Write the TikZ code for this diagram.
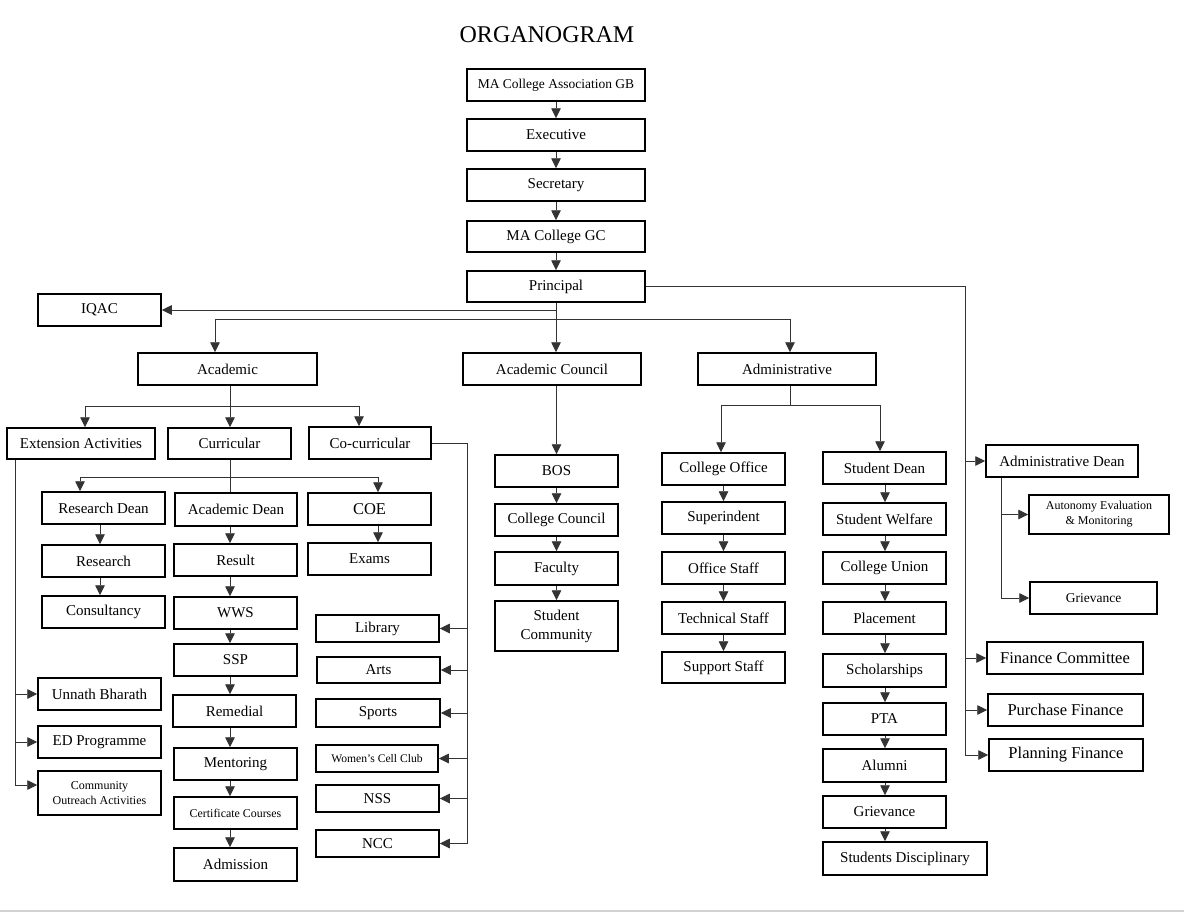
\documentclass[tikz,border=0pt]{standalone}
\usepackage{fontspec}
\setmainfont{Liberation Serif}
\usetikzlibrary{arrows.meta}
\newcommand\fs[2]{\fontsize{#1}{#2}\selectfont}
\tikzset{
  box/.style={draw=black, line width=1.5pt, inner sep=0pt, align=center, font=\fs{15}{19}},
  conn/.style={draw=black!80, line width=0.9pt},
  arr/.style={conn, -{Triangle[length=10pt,width=9.5pt]}},
}
\newcommand\bx[7][]{\node[box,minimum width={#5-#3},minimum height={#6-#4},#1] (#2) at ({(#3+#5)/2},{(#4+#6)/2}) {#7};}
\begin{document}
\begin{tikzpicture}[x=1pt,y=-1pt]
\fill[white] (0,0) rectangle (1184,913);
\useasboundingbox (0,0) rectangle (1184,913);
\draw[gray!35, line width=1.5pt] (0,911) -- (1184,911);
\node[font=\fs{24}{28}] (title) at (547,35) {ORGANOGRAM};
% top chain
\bx[font=\fs{13.5}{16}]{gb}{467}{69}{645}{101}{MA College Association GB}
\bx{exe}{467}{119}{645}{151}{Executive}
\bx{sec}{467}{169}{645}{201}{Secretary}
\bx{gc}{467}{221}{645}{252}{MA College GC}
\bx{pr}{467}{271}{645}{302}{Principal}
\bx{iqac}{38}{294}{161}{326}{IQAC}
\bx{acad}{138}{353}{317}{385}{Academic}
\bx{ac}{463}{353}{641}{385}{Academic Council}
\bx{adm}{698}{353}{876}{385}{Administrative}
% academic
\bx{ext}{7}{428}{155}{459}{Extension Activities}
\bx{cur}{168}{428}{291}{459}{Curricular}
\bx{cocur}{309}{427}{431}{459}{Co-curricular}
\bx{rdean}{42}{492}{165}{524}{Research Dean}
\bx{acdean}{175}{493}{297}{526}{Academic Dean}
\bx[font=\fs{16.5}{19}]{coe}{308}{493}{431}{525}{COE}
\bx{res}{42}{545}{165}{577}{Research}
\bx{result}{174}{544}{297}{576}{Result}
\bx{exams}{308}{543}{431}{575}{Exams}
\bx{cons}{42}{596}{165}{628}{Consultancy}
\bx{wws}{174}{597}{297}{629}{WWS}
\bx{ssp}{174}{644}{297}{676}{SSP}
\bx{rem}{173}{695}{296}{727}{Remedial}
\bx{ment}{174}{748}{297}{780}{Mentoring}
\bx[font=\fs{11.9}{14}]{cert}{174}{797}{297}{829}{Certificate Courses}
\bx{adms}{174}{848}{297}{881}{Admission}
\bx{lib}{316}{615}{439}{642}{Library}
\bx{arts}{317}{657}{440}{683}{Arts}
\bx{sports}{316}{699}{440}{727}{Sports}
\bx[font=\fs{11.6}{14}]{wcc}{316}{745}{438}{772}{Women’s Cell Club}
\bx{nss}{316}{785}{439}{812}{NSS}
\bx{ncc}{316}{830}{439}{857}{NCC}
\bx{ub}{38}{678}{161}{710}{Unnath Bharath}
\bx{ed}{38}{726}{161}{758}{ED Programme}
\bx[font=\fs{12}{15}]{com}{38}{771}{161}{815}{Community\\Outreach Activities}
% academic council
\bx{bos}{495}{455}{618}{487}{BOS}
\bx{cc}{495}{504}{618}{536}{College Council}
\bx{fac}{495}{552}{618}{585}{Faculty}
\bx{sc}{495}{601}{618}{651}{Student\\Community}
% administrative
\bx{co}{662}{453}{785}{485}{College Office}
\bx{sup}{662}{502}{785}{534}{Superindent}
\bx{os}{662}{552}{785}{584}{Office Staff}
\bx{ts}{662}{602}{785}{634}{Technical Staff}
\bx{ss}{662}{652}{785}{683}{Support Staff}
\bx{sd}{823}{452}{946}{484}{Student Dean}
\bx{sw}{823}{503}{946}{535}{Student Welfare}
\bx{cu}{823}{552}{946}{584}{College Union}
\bx{pl}{823}{602}{946}{634}{Placement}
\bx{sch}{823}{654}{946}{687}{Scholarships}
\bx{pta}{823}{703}{946}{735}{PTA}
\bx{alu}{823}{749}{946}{782}{Alumni}
\bx{grv}{823}{796}{946}{828}{Grievance}
\bx{sdis}{823}{842}{987}{875}{Students Disciplinary}
% right side
\bx{admdean}{986}{445}{1138}{477}{Administrative Dean}
\bx[font=\fs{12}{15}]{aem}{1029}{495}{1169}{534}{Autonomy Evaluation\\\& Monitoring}
\bx[font=\fs{13.5}{16}]{grv2}{1030}{582}{1157}{614}{Grievance}
\bx[font=\fs{16.5}{19}]{fin}{987}{642}{1143}{674}{Finance Committee}
\bx[font=\fs{16.5}{19}]{pur}{988}{694}{1143}{726}{Purchase Finance}
\bx[font=\fs{16.5}{19}]{plan}{989}{739}{1143}{771}{Planning Finance}
% ---- connectors ----
\draw[arr] (gb.south) -- (exe.north);
\draw[arr] (exe.south) -- (sec.north);
\draw[arr] (sec.south) -- (gc.north);
\draw[arr] (gc.south) -- (pr.north);
\draw[arr] (pr.south) -- (pr.south |- ac.north);
\draw[arr] (pr.south |- iqac.east) -- (iqac.east);
\coordinate (pb) at (556,319);
\draw[arr] (pb) -| ([xshift=-12.5pt]acad.north);
\draw[arr] (pb) -| ([xshift=3pt]adm.north);
\coordinate (rt) at (965,286);
\draw[conn] (pr.east) -- (pr.east -| rt) -- (rt |- plan.west);
\foreach \n in {admdean,fin,pur,plan} \draw[arr] (rt |- \n.west) -- (\n.west);
% academic
\coordinate (ab) at (230,406);
\draw[conn] (acad.south -| ab) -- (ab);
\draw[arr] (ab) -| ([xshift=4pt]ext.north);
\draw[arr] (ab) -| ([xshift=-11pt]cocur.north);
\draw[arr] (ab) -- (ab |- cur.north);
\coordinate (cb) at (230,477);
\draw[conn] (cur.south -| cb) -- (cb |- acdean.north);
\draw[arr] (cb) -| ([xshift=-23.5pt]rdean.north);
\draw[arr] (cb) -| ([xshift=8.5pt]coe.north);
\coordinate (rx) at (100,0);
\draw[arr] (rdean.south -| rx) -- (res.north -| rx);
\draw[arr] (res.south -| rx) -- (cons.north -| rx);
\coordinate (cx) at (230,0);
\draw[arr] (acdean.south -| cx) -- (result.north -| cx);
\draw[arr] (result.south -| cx) -- (wws.north -| cx);
\draw[arr] (wws.south -| cx) -- (ssp.north -| cx);
\draw[arr] (ssp.south -| cx) -- (rem.north -| cx);
\draw[arr] (rem.south -| cx) -- (ment.north -| cx);
\draw[arr] (ment.south -| cx) -- (cert.north -| cx);
\draw[arr] (cert.south -| cx) -- (adms.north -| cx);
\coordinate (ex) at (378,0);
\draw[arr] (coe.south -| ex) -- (exams.north -| ex);
\coordinate (cv) at (467,0);
\draw[conn] (cocur.east) -- (cocur.east -| cv) -- (cv |- ncc.east);
\foreach \n in {lib,arts,sports,wcc,nss,ncc} \draw[arr] (cv |- \n.east) -- (\n.east);
\coordinate (ev) at (15,0);
\coordinate (ce) at (15,785);
\draw[conn] (ext.south -| ev) -- (ce);
\draw[arr] (ev |- ub.west) -- (ub.west);
\draw[arr] (ev |- ed.west) -- (ed.west);
\draw[arr] (ce) -- (ce -| com.west);
% academic council
\draw[arr] (ac.south -| bos.north) -- (bos.north);
\draw[arr] (bos.south) -- (cc.north);
\draw[arr] (cc.south) -- (fac.north);
\draw[arr] (fac.south) -- (sc.north);
% administrative
\coordinate (db) at (790,405);
\draw[conn] (adm.south -| db) -- (db);
\draw[arr] (db) -| ([xshift=-2.5pt]co.north);
\draw[arr] (db) -| ([xshift=-4.5pt]sd.north);
\draw[arr] (co.south) -- (sup.north);
\draw[arr] (sup.south) -- (os.north);
\draw[arr] (os.south) -- (ts.north);
\draw[arr] (ts.south) -- (ss.north);
\coordinate (sx) at (885,0);
\draw[arr] (sd.south -| sx) -- (sw.north -| sx);
\draw[arr] (sw.south -| sx) -- (cu.north -| sx);
\draw[arr] (cu.south -| sx) -- (pl.north -| sx);
\draw[arr] (pl.south -| sx) -- (sch.north -| sx);
\draw[arr] (sch.south -| sx) -- (pta.north -| sx);
\draw[arr] (pta.south -| sx) -- (alu.north -| sx);
\draw[arr] (alu.south -| sx) -- (grv.north -| sx);
\draw[arr] (grv.south -| sx) -- (sdis.north -| sx);
% administrative dean
\coordinate (av) at (1001,0);
\draw[conn] (admdean.south -| av) -- (av |- grv2.west);
\draw[arr] (av |- aem.west) -- (aem.west);
\draw[arr] (av |- grv2.west) -- (grv2.west);
\end{tikzpicture}
\end{document}
